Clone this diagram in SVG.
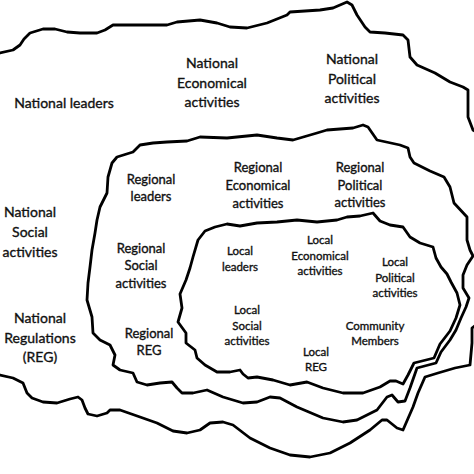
<svg xmlns="http://www.w3.org/2000/svg" width="474" height="474" viewBox="0 0 474 474">
<style>
.b{fill:none;stroke:#000;stroke-width:2.8;stroke-linejoin:round;stroke-linecap:round}
text{font-family:Lato,"Open Sans",sans-serif;fill:#111;stroke:#111;stroke-width:0.35;text-anchor:middle}
.n{font-size:14px}
.r{font-size:13px}
.l{font-size:11.5px}
</style>
<rect width="474" height="474" fill="#fff"/>
<g id="boundaries">
<path class="b" d="M0,53 L13,50 L20,45 L24,39 L30,33 L43,29 L55,29 L67,32 L80,33 L97,33 L105,30 L113,25 L140,25 L167,25 L177,22 L200,20 L217,23 L230,27 L247,28 L267,23 L287,15 L290,12 L320,10 L333,8 L340,5 L347,2 L352,5 L357,15 L365,27 L370,32 L385,33 L403,35 L408,40 L410,57 L417,65 L435,73 L450,82 L463,87 L468,90 L468,117 L473,130 L476,132"/>
<path class="b" d="M476,325 L472,328 L472,343 L470,365 L455,368 L438,373 L425,377 L418,393 L413,407 L403,430 L397,428 L387,420 L382,420 L370,430 L350,443 L330,453 L310,457 L290,455 L270,448 L250,438 L233,425 L223,422 L210,423 L200,430 L187,433 L173,431 L157,423 L140,417 L120,410 L110,410 L107,413 L97,416 L88,414 L85,408 L82,400 L78,397 L70,399 L57,403 L43,402 L32,398 L27,393 L23,383 L13,378 L0,375"/>
<path class="b" d="M117,157 L133,152 L140,145 L153,143 L167,142 L187,141 L200,137 L227,138 L257,135 L277,138 L293,140 L317,133 L327,130 L353,128 L363,125 L368,127 L377,140 L400,145 L408,148 L410,157 L414,163 L430,171 L444,177 L450,187 L454,203 L467,217 L467,240 L470,250 L473,256 L467,265 L463,275 L463,288 L469,298 L466,307 L461,318 L456,330 L450,340 L441,352 L436,363 L417,368 L410,388 L405,401 L398,402 L392,395 L387,397 L377,410 L357,420 L343,422 L323,418 L297,407 L280,398 L270,397 L257,402 L243,403 L223,397 L207,390 L193,393 L182,393 L177,388 L172,382 L160,383 L147,385 L137,382 L133,373 L120,370 L113,365 L115,355 L110,345 L100,340 L93,333 L92,317 L87,300 L88,283 L90,267 L92,250 L95,233 L97,220 L100,207 L107,193 L108,177 L112,163 Z"/>
<path class="b" d="M198,240 L205,231 L215,227 L227,224 L240,226 L257,223 L277,222 L297,220 L317,222 L337,220 L347,217 L360,216 L373,213 L380,221 L390,225 L403,227 L410,237 L420,243 L433,247 L436,258 L441,267 L447,274 L451,282 L457,293 L460,305 L456,318 L450,331 L440,344 L434,358 L414,363 L408,375 L403,384 L396,381 L390,381 L380,387 L363,393 L343,393 L323,388 L307,382 L290,385 L273,380 L257,377 L248,378 L243,374 L240,370 L230,372 L217,372 L205,365 L197,358 L195,350 L186,343 L186,333 L178,322 L182,308 L180,294 L186,280 L190,268 L193,257 Z"/>
</g>
<g id="national-leaders"><text class="n" x="64" y="108">National leaders</text></g>
<g id="national-economical"><text class="n" x="212" y="68">National</text><text class="n" x="212" y="88">Economical</text><text class="n" x="212" y="107">activities</text></g>
<g id="national-political"><text class="n" x="352" y="64">National</text><text class="n" x="352" y="84">Political</text><text class="n" x="352" y="103">activities</text></g>
<g id="national-social"><text class="n" x="30" y="217">National</text><text class="n" x="30" y="237">Social</text><text class="n" x="30" y="257">activities</text></g>
<g id="national-regulations"><text class="n" x="40" y="323">National</text><text class="n" x="40" y="343">Regulations</text><text class="n" x="40" y="362">(REG)</text></g>
<g id="regional-leaders"><text class="r" x="151" y="184">Regional</text><text class="r" x="151" y="201">leaders</text></g>
<g id="regional-economical"><text class="r" x="258" y="172">Regional</text><text class="r" x="258" y="190">Economical</text><text class="r" x="258" y="208">activities</text></g>
<g id="regional-political"><text class="r" x="360" y="172">Regional</text><text class="r" x="360" y="190">Political</text><text class="r" x="360" y="207">activities</text></g>
<g id="regional-social"><text class="r" x="141" y="253">Regional</text><text class="r" x="141" y="270">Social</text><text class="r" x="141" y="288">activities</text></g>
<g id="regional-reg"><text class="r" x="149" y="338">Regional</text><text class="r" x="149" y="355">REG</text></g>
<g id="local-leaders"><text class="l" x="240" y="255">Local</text><text class="l" x="240" y="271">leaders</text></g>
<g id="local-economical"><text class="l" x="320" y="244">Local</text><text class="l" x="320" y="260">Economical</text><text class="l" x="320" y="275">activities</text></g>
<g id="local-political"><text class="l" x="395" y="266">Local</text><text class="l" x="395" y="282">Political</text><text class="l" x="395" y="297">activities</text></g>
<g id="local-social"><text class="l" x="247" y="314">Local</text><text class="l" x="247" y="330">Social</text><text class="l" x="247" y="345">activities</text></g>
<g id="community-members"><text class="l" x="375" y="330">Community</text><text class="l" x="375" y="345">Members</text></g>
<g id="local-reg"><text class="l" x="316" y="356">Local</text><text class="l" x="316" y="371">REG</text></g>
</svg>
